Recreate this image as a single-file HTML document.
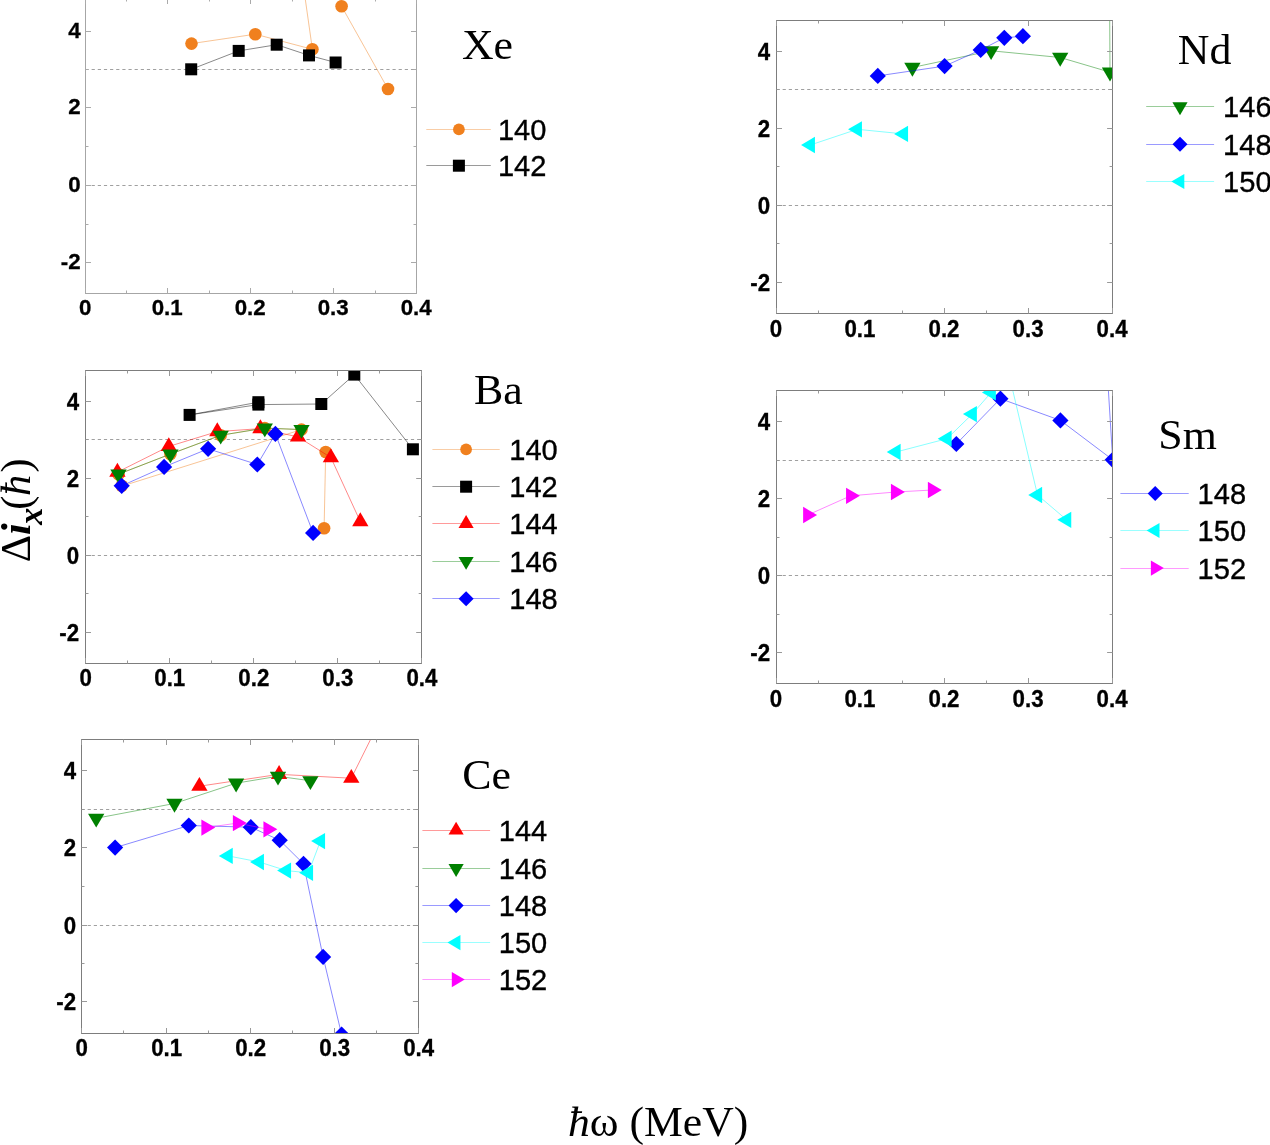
<!DOCTYPE html>
<html lang="en">
<head>
<meta charset="utf-8">
<title>Aligned angular momentum plots</title>
<style>
html,body{margin:0;padding:0;background:#fff;}
body{width:1270px;height:1145px;overflow:hidden;}
svg{display:block;}
</style>
</head>
<body>
<svg width="1270" height="1145" viewBox="0 0 1270 1145">
<rect width="1270" height="1145" fill="#fff"/>
<defs>
<clipPath id="cp-xe"><rect x="85.5" y="-1.5" width="331" height="295"/></clipPath>
<clipPath id="cp-ba"><rect x="85.5" y="370.5" width="336.2" height="292.9"/></clipPath>
<clipPath id="cp-ce"><rect x="81.5" y="739.4" width="336.9" height="293.9"/></clipPath>
<clipPath id="cp-nd"><rect x="776.5" y="20.3" width="336.1" height="293"/></clipPath>
<clipPath id="cp-sm"><rect x="776.5" y="390.3" width="336.1" height="293.3"/></clipPath>
</defs>
<g id="xe">
<line x1="85.5" y1="185.5" x2="416.5" y2="185.5" stroke="#a0a0a0" stroke-width="1" stroke-dasharray="3.2 2.94"/>
<line x1="85.5" y1="69.5" x2="416.5" y2="69.5" stroke="#a0a0a0" stroke-width="1" stroke-dasharray="3.2 2.94"/>
<g clip-path="url(#cp-xe)">
<polyline fill="none" stroke="#F0801E" stroke-width="0.47" points="191.5,43.6 255.3,34.2 312.4,49.3 248.6,-400 341.6,6.3 388,89"/>
<circle cx="191.5" cy="43.6" r="6.3" fill="#F0801E"/>
<circle cx="255.3" cy="34.2" r="6.3" fill="#F0801E"/>
<circle cx="312.4" cy="49.3" r="6.3" fill="#F0801E"/>
<circle cx="248.6" cy="-400" r="6.3" fill="#F0801E"/>
<circle cx="341.6" cy="6.3" r="6.3" fill="#F0801E"/>
<circle cx="388" cy="89" r="6.3" fill="#F0801E"/>
<polyline fill="none" stroke="#000000" stroke-width="0.47" points="191.2,69.3 238.7,50.9 276.7,44.7 309,55.4 335.6,62.5"/>
<rect x="185.2" y="63.3" width="12" height="12" fill="#000000"/>
<rect x="232.7" y="44.9" width="12" height="12" fill="#000000"/>
<rect x="270.7" y="38.7" width="12" height="12" fill="#000000"/>
<rect x="303" y="49.4" width="12" height="12" fill="#000000"/>
<rect x="329.6" y="56.5" width="12" height="12" fill="#000000"/>
</g>
<rect x="85.5" y="-1.5" width="331" height="295" fill="none" stroke="#a6a6a6" stroke-width="1"/>
<path d="M85.5 293.5v-5.5M85.5 -1.5v5.5M126.5 293.5v-3M126.5 -1.5v3M167.5 293.5v-5.5M167.5 -1.5v5.5M209.5 293.5v-3M209.5 -1.5v3M250.5 293.5v-5.5M250.5 -1.5v5.5M292.5 293.5v-3M292.5 -1.5v3M333.5 293.5v-5.5M375.5 293.5v-3M375.5 -1.5v3M416.5 293.5v-5.5M416.5 -1.5v5.5M85.5 262.5h5.5M416.5 262.5h-5.5M85.5 224.5h3M416.5 224.5h-3M85.5 185.5h5.5M416.5 185.5h-5.5M85.5 146.5h3M416.5 146.5h-3M85.5 107.5h5.5M416.5 107.5h-5.5M85.5 69.5h3M416.5 69.5h-3M85.5 31.5h5.5M416.5 31.5h-5.5" stroke="#aaa" stroke-width="1" fill="none"/>
<g font-family="'Liberation Sans', Arial, Helvetica, sans-serif" font-weight="bold" font-size="22.3" fill="#000" stroke="#000" stroke-width="0.3">
<text transform="translate(85.2,315.1) scale(1,1)" text-anchor="middle">0</text>
<text transform="translate(167.2,315.1) scale(1,1)" text-anchor="middle">0.1</text>
<text transform="translate(250.2,315.1) scale(1,1)" text-anchor="middle">0.2</text>
<text transform="translate(333.2,315.1) scale(1,1)" text-anchor="middle">0.3</text>
<text transform="translate(416.2,315.1) scale(1,1)" text-anchor="middle">0.4</text>
<text transform="translate(80.7,269.3) scale(1,1)" text-anchor="end">-2</text>
<text transform="translate(80.7,192.3) scale(1,1)" text-anchor="end">0</text>
<text transform="translate(80.7,114.3) scale(1,1)" text-anchor="end">2</text>
<text transform="translate(80.7,38.3) scale(1,1)" text-anchor="end">4</text>
</g>
<text transform="translate(487.5,59) scale(1.045,1)" text-anchor="middle" font-family="'Liberation Serif', 'Times New Roman', serif" font-size="42" fill="#000">Xe</text>
<line x1="426.3" y1="129.5" x2="490.8" y2="129.5" stroke="#F0801E" stroke-width="0.4"/>
<circle cx="458.9" cy="129.4" r="5.86" fill="#F0801E"/>
<text transform="translate(497.9,140.1) scale(0.985,1.015)" font-family="'Liberation Sans', Arial, Helvetica, sans-serif" font-size="29.5" fill="#000" stroke="#000" stroke-width="0.35">140</text>
<line x1="426.3" y1="165.5" x2="490.8" y2="165.5" stroke="#000000" stroke-width="0.4"/>
<rect x="452.9" y="159.7" width="12" height="12" fill="#000000"/>
<text transform="translate(497.9,176.4) scale(0.985,1.015)" font-family="'Liberation Sans', Arial, Helvetica, sans-serif" font-size="29.5" fill="#000" stroke="#000" stroke-width="0.35">142</text>
</g>
<g id="ba">
<line x1="85.5" y1="555.5" x2="421.7" y2="555.5" stroke="#a0a0a0" stroke-width="1" stroke-dasharray="3.2 2.94"/>
<line x1="85.5" y1="439.5" x2="421.7" y2="439.5" stroke="#a0a0a0" stroke-width="1" stroke-dasharray="3.2 2.94"/>
<g clip-path="url(#cp-ba)">
<polyline fill="none" stroke="#F0801E" stroke-width="0.47" points="121.7,485.8 118.5,474.2 170.4,454.1 220.7,435.3 264.8,428.1 301.5,429.6"/>
<polyline fill="none" stroke="#F0801E" stroke-width="0.47" points="325.7,452 324.1,528.2"/>
<polyline fill="none" stroke="#F0801E" stroke-width="0.47" points="121.7,486.2 301.5,429.6"/>
<circle cx="121.7" cy="485.8" r="6.3" fill="#F0801E"/>
<circle cx="118.5" cy="474.2" r="6.3" fill="#F0801E"/>
<circle cx="170.4" cy="454.1" r="6.3" fill="#F0801E"/>
<circle cx="220.7" cy="435.3" r="6.3" fill="#F0801E"/>
<circle cx="264.8" cy="428.1" r="6.3" fill="#F0801E"/>
<circle cx="301.5" cy="429.6" r="6.3" fill="#F0801E"/>
<circle cx="325.7" cy="452" r="6.3" fill="#F0801E"/>
<circle cx="324.1" cy="528.2" r="6.3" fill="#F0801E"/>
<polyline fill="none" stroke="#000000" stroke-width="0.47" points="189.6,414.9 258.4,402.2 258.4,404.6 321.3,404 354.3,374.6 412.9,449.3"/>
<polyline fill="none" stroke="#000000" stroke-width="0.47" points="189.6,414.9 258.4,404.6"/>
<rect x="183.6" y="408.9" width="12" height="12" fill="#000000"/>
<rect x="252.4" y="396.2" width="12" height="12" fill="#000000"/>
<rect x="252.4" y="398.6" width="12" height="12" fill="#000000"/>
<rect x="315.3" y="398" width="12" height="12" fill="#000000"/>
<rect x="348.3" y="368.6" width="12" height="12" fill="#000000"/>
<rect x="406.9" y="443.3" width="12" height="12" fill="#000000"/>
<polyline fill="none" stroke="#FF0000" stroke-width="0.47" points="117.4,472.12 168.8,446.42 217.3,431.62 260.4,428.62 298,436.92 330.9,457.52 360.3,521.52"/>
<polygon points="117.4,462.85 125.55,476.75 109.25,476.75" fill="#FF0000"/>
<polygon points="168.8,437.15 176.95,451.05 160.65,451.05" fill="#FF0000"/>
<polygon points="217.3,422.35 225.45,436.25 209.15,436.25" fill="#FF0000"/>
<polygon points="260.4,419.35 268.55,433.25 252.25,433.25" fill="#FF0000"/>
<polygon points="298,427.65 306.15,441.55 289.85,441.55" fill="#FF0000"/>
<polygon points="330.9,448.25 339.05,462.15 322.75,462.15" fill="#FF0000"/>
<polygon points="360.3,512.25 368.45,526.15 352.15,526.15" fill="#FF0000"/>
<polyline fill="none" stroke="#008000" stroke-width="0.47" points="118.5,474.18 170.4,454.08 220.7,435.28 264.8,428.08 301.5,429.58"/>
<polygon points="118.5,483.45 126.65,469.55 110.35,469.55" fill="#008000"/>
<polygon points="170.4,463.35 178.55,449.45 162.25,449.45" fill="#008000"/>
<polygon points="220.7,444.55 228.85,430.65 212.55,430.65" fill="#008000"/>
<polygon points="264.8,437.35 272.95,423.45 256.65,423.45" fill="#008000"/>
<polygon points="301.5,438.85 309.65,424.95 293.35,424.95" fill="#008000"/>
<polyline fill="none" stroke="#0000FF" stroke-width="0.47" points="121.7,485.8 164.1,466.9 208.1,448.8 257.3,464.5 275.4,433.9 313.1,532.9"/>
<polygon points="113.6,485.8 121.7,477.7 129.8,485.8 121.7,493.9" fill="#0000FF"/>
<polygon points="156,466.9 164.1,458.8 172.2,466.9 164.1,475" fill="#0000FF"/>
<polygon points="200,448.8 208.1,440.7 216.2,448.8 208.1,456.9" fill="#0000FF"/>
<polygon points="249.2,464.5 257.3,456.4 265.4,464.5 257.3,472.6" fill="#0000FF"/>
<polygon points="267.3,433.9 275.4,425.8 283.5,433.9 275.4,442" fill="#0000FF"/>
<polygon points="305,532.9 313.1,524.8 321.2,532.9 313.1,541" fill="#0000FF"/>
</g>
<rect x="85.5" y="370.5" width="336" height="293" fill="none" stroke="#7d7d7d" stroke-width="1"/>
<path d="M85.5 663.5v-5.5M85.5 370.5v5.5M127.5 663.5v-3M127.5 370.5v3M169.5 663.5v-5.5M169.5 370.5v5.5M211.5 663.5v-3M211.5 370.5v3M253.5 663.5v-5.5M253.5 370.5v5.5M295.5 663.5v-3M295.5 370.5v3M337.5 663.5v-5.5M337.5 370.5v5.5M379.5 663.5v-3M379.5 370.5v3M421.5 663.5v-5.5M421.5 370.5v5.5M85.5 632.5h5.5M421.7 632.5h-5.5M85.5 593.5h3M421.7 593.5h-3M85.5 555.5h5.5M421.7 555.5h-5.5M85.5 516.5h3M421.7 516.5h-3M85.5 478.5h5.5M421.7 478.5h-5.5M85.5 439.5h3M421.7 439.5h-3M85.5 401.5h5.5M421.7 401.5h-5.5" stroke="#999" stroke-width="1" fill="none"/>
<g font-family="'Liberation Sans', Arial, Helvetica, sans-serif" font-weight="bold" font-size="22.3" fill="#000" stroke="#000" stroke-width="0.3">
<text transform="translate(85.7,686.1) scale(1,1.07)" text-anchor="middle">0</text>
<text transform="translate(169.75,686.1) scale(1,1.07)" text-anchor="middle">0.1</text>
<text transform="translate(253.8,686.1) scale(1,1.07)" text-anchor="middle">0.2</text>
<text transform="translate(337.85,686.1) scale(1,1.07)" text-anchor="middle">0.3</text>
<text transform="translate(421.9,686.1) scale(1,1.07)" text-anchor="middle">0.4</text>
<text transform="translate(79.1,640.5) scale(1,1.07)" text-anchor="end">-2</text>
<text transform="translate(79.1,563.5) scale(1,1.07)" text-anchor="end">0</text>
<text transform="translate(79.1,486.5) scale(1,1.07)" text-anchor="end">2</text>
<text transform="translate(79.1,409.5) scale(1,1.07)" text-anchor="end">4</text>
</g>
<text transform="translate(498.4,404.3) scale(1.045,1)" text-anchor="middle" font-family="'Liberation Serif', 'Times New Roman', serif" font-size="42" fill="#000">Ba</text>
<line x1="432.4" y1="449.5" x2="499.7" y2="449.5" stroke="#F0801E" stroke-width="0.4"/>
<circle cx="466.1" cy="449.3" r="5.86" fill="#F0801E"/>
<text transform="translate(509.3,460) scale(0.985,1.015)" font-family="'Liberation Sans', Arial, Helvetica, sans-serif" font-size="29.5" fill="#000" stroke="#000" stroke-width="0.35">140</text>
<line x1="432.4" y1="486.5" x2="499.7" y2="486.5" stroke="#000000" stroke-width="0.4"/>
<rect x="460.1" y="480.7" width="12" height="12" fill="#000000"/>
<text transform="translate(509.3,497.4) scale(0.985,1.015)" font-family="'Liberation Sans', Arial, Helvetica, sans-serif" font-size="29.5" fill="#000" stroke="#000" stroke-width="0.35">142</text>
<line x1="432.4" y1="523.5" x2="499.7" y2="523.5" stroke="#FF0000" stroke-width="0.4"/>
<polygon points="466.1,514.98 473.68,527.91 458.52,527.91" fill="#FF0000"/>
<text transform="translate(509.3,534.3) scale(0.985,1.015)" font-family="'Liberation Sans', Arial, Helvetica, sans-serif" font-size="29.5" fill="#000" stroke="#000" stroke-width="0.35">144</text>
<line x1="432.4" y1="561.5" x2="499.7" y2="561.5" stroke="#008000" stroke-width="0.4"/>
<polygon points="466.1,569.82 473.68,556.89 458.52,556.89" fill="#008000"/>
<text transform="translate(509.3,571.9) scale(0.985,1.015)" font-family="'Liberation Sans', Arial, Helvetica, sans-serif" font-size="29.5" fill="#000" stroke="#000" stroke-width="0.35">146</text>
<line x1="432.4" y1="598.5" x2="499.7" y2="598.5" stroke="#0000FF" stroke-width="0.4"/>
<polygon points="458.57,598.7 466.1,591.17 473.63,598.7 466.1,606.23" fill="#0000FF"/>
<text transform="translate(509.3,609.4) scale(0.985,1.015)" font-family="'Liberation Sans', Arial, Helvetica, sans-serif" font-size="29.5" fill="#000" stroke="#000" stroke-width="0.35">148</text>
</g>
<g id="ce">
<line x1="81.5" y1="925.5" x2="418.4" y2="925.5" stroke="#a0a0a0" stroke-width="1" stroke-dasharray="3.2 2.94"/>
<line x1="81.5" y1="809.5" x2="418.4" y2="809.5" stroke="#a0a0a0" stroke-width="1" stroke-dasharray="3.2 2.94"/>
<g clip-path="url(#cp-ce)">
<polyline fill="none" stroke="#FF0000" stroke-width="0.47" points="199.4,786.22 279.1,774.32 351.3,778.22 392,696.32"/>
<polygon points="199.4,776.95 207.55,790.85 191.25,790.85" fill="#FF0000"/>
<polygon points="279.1,765.05 287.25,778.95 270.95,778.95" fill="#FF0000"/>
<polygon points="351.3,768.95 359.45,782.85 343.15,782.85" fill="#FF0000"/>
<polygon points="392,687.05 400.15,700.95 383.85,700.95" fill="#FF0000"/>
<polyline fill="none" stroke="#008000" stroke-width="0.47" points="96.2,818.28 174.5,803.48 236.1,783.18 278,776.28 310.4,780.78"/>
<polygon points="96.2,827.55 104.35,813.65 88.05,813.65" fill="#008000"/>
<polygon points="174.5,812.75 182.65,798.85 166.35,798.85" fill="#008000"/>
<polygon points="236.1,792.45 244.25,778.55 227.95,778.55" fill="#008000"/>
<polygon points="278,785.55 286.15,771.65 269.85,771.65" fill="#008000"/>
<polygon points="310.4,790.05 318.55,776.15 302.25,776.15" fill="#008000"/>
<polyline fill="none" stroke="#0000FF" stroke-width="0.47" points="115.1,847.6 188.8,825.5 250.8,827.2 279.7,840.2 303.5,863.8 323.1,956.9 341.6,1034.5"/>
<polygon points="107,847.6 115.1,839.5 123.2,847.6 115.1,855.7" fill="#0000FF"/>
<polygon points="180.7,825.5 188.8,817.4 196.9,825.5 188.8,833.6" fill="#0000FF"/>
<polygon points="242.7,827.2 250.8,819.1 258.9,827.2 250.8,835.3" fill="#0000FF"/>
<polygon points="271.6,840.2 279.7,832.1 287.8,840.2 279.7,848.3" fill="#0000FF"/>
<polygon points="295.4,863.8 303.5,855.7 311.6,863.8 303.5,871.9" fill="#0000FF"/>
<polygon points="315,956.9 323.1,948.8 331.2,956.9 323.1,965" fill="#0000FF"/>
<polygon points="333.5,1034.5 341.6,1026.4 349.7,1034.5 341.6,1042.6" fill="#0000FF"/>
<polyline fill="none" stroke="#00FFFF" stroke-width="0.47" points="228.12,855.9 259.32,862 286.42,870.6 308.42,872.8 320.42,841.1"/>
<polygon points="218.85,855.9 232.75,847.75 232.75,864.05" fill="#00FFFF"/>
<polygon points="250.05,862 263.95,853.85 263.95,870.15" fill="#00FFFF"/>
<polygon points="277.15,870.6 291.05,862.45 291.05,878.75" fill="#00FFFF"/>
<polygon points="299.15,872.8 313.05,864.65 313.05,880.95" fill="#00FFFF"/>
<polygon points="311.15,841.1 325.05,832.95 325.05,849.25" fill="#00FFFF"/>
<polyline fill="none" stroke="#FF00FF" stroke-width="0.47" points="205.98,827.6 237.48,823.1 268.08,829.3"/>
<polygon points="215.25,827.6 201.35,819.45 201.35,835.75" fill="#FF00FF"/>
<polygon points="246.75,823.1 232.85,814.95 232.85,831.25" fill="#FF00FF"/>
<polygon points="277.35,829.3 263.45,821.15 263.45,837.45" fill="#FF00FF"/>
</g>
<rect x="81.5" y="739.5" width="337" height="294" fill="none" stroke="#7d7d7d" stroke-width="1"/>
<path d="M81.5 1033.5v-5.5M81.5 739.5v5.5M123.5 1033.5v-3M123.5 739.5v3M166.5 1033.5v-5.5M166.5 739.5v5.5M208.5 1033.5v-3M208.5 739.5v3M250.5 1033.5v-5.5M250.5 739.5v5.5M292.5 1033.5v-3M292.5 739.5v3M334.5 1033.5v-5.5M334.5 739.5v5.5M376.5 1033.5v-3M376.5 739.5v3M418.5 1033.5v-5.5M418.5 739.5v5.5M81.5 1001.5h5.5M418.4 1001.5h-5.5M81.5 963.5h3M418.4 963.5h-3M81.5 925.5h5.5M418.4 925.5h-5.5M81.5 886.5h3M418.4 886.5h-3M81.5 847.5h5.5M418.4 847.5h-5.5M81.5 809.5h3M418.4 809.5h-3M81.5 770.5h5.5M418.4 770.5h-5.5" stroke="#999" stroke-width="1" fill="none"/>
<g font-family="'Liberation Sans', Arial, Helvetica, sans-serif" font-weight="bold" font-size="22.3" fill="#000" stroke="#000" stroke-width="0.3">
<text transform="translate(81.7,1055.7) scale(1,1.07)" text-anchor="middle">0</text>
<text transform="translate(166.7,1055.7) scale(1,1.07)" text-anchor="middle">0.1</text>
<text transform="translate(250.7,1055.7) scale(1,1.07)" text-anchor="middle">0.2</text>
<text transform="translate(334.7,1055.7) scale(1,1.07)" text-anchor="middle">0.3</text>
<text transform="translate(418.7,1055.7) scale(1,1.07)" text-anchor="middle">0.4</text>
<text transform="translate(76.1,1009.6) scale(1,1.07)" text-anchor="end">-2</text>
<text transform="translate(76.1,933.6) scale(1,1.07)" text-anchor="end">0</text>
<text transform="translate(76.1,855.6) scale(1,1.07)" text-anchor="end">2</text>
<text transform="translate(76.1,778.6) scale(1,1.07)" text-anchor="end">4</text>
</g>
<text transform="translate(486.6,788.8) scale(1.045,1)" text-anchor="middle" font-family="'Liberation Serif', 'Times New Roman', serif" font-size="42" fill="#000">Ce</text>
<line x1="422.4" y1="830.5" x2="490.1" y2="830.5" stroke="#FF0000" stroke-width="0.4"/>
<polygon points="456.1,821.68 463.68,834.61 448.52,834.61" fill="#FF0000"/>
<text transform="translate(498.8,841) scale(0.985,1.015)" font-family="'Liberation Sans', Arial, Helvetica, sans-serif" font-size="29.5" fill="#000" stroke="#000" stroke-width="0.35">144</text>
<line x1="422.4" y1="868.5" x2="490.1" y2="868.5" stroke="#008000" stroke-width="0.4"/>
<polygon points="456.1,876.92 463.68,863.99 448.52,863.99" fill="#008000"/>
<text transform="translate(498.8,879) scale(0.985,1.015)" font-family="'Liberation Sans', Arial, Helvetica, sans-serif" font-size="29.5" fill="#000" stroke="#000" stroke-width="0.35">146</text>
<line x1="422.4" y1="905.5" x2="490.1" y2="905.5" stroke="#0000FF" stroke-width="0.4"/>
<polygon points="448.57,905.6 456.1,898.07 463.63,905.6 456.1,913.13" fill="#0000FF"/>
<text transform="translate(498.8,916.3) scale(0.985,1.015)" font-family="'Liberation Sans', Arial, Helvetica, sans-serif" font-size="29.5" fill="#000" stroke="#000" stroke-width="0.35">148</text>
<line x1="422.4" y1="942.5" x2="490.1" y2="942.5" stroke="#00FFFF" stroke-width="0.4"/>
<polygon points="447.48,942.6 460.41,935.02 460.41,950.18" fill="#00FFFF"/>
<text transform="translate(498.8,953.3) scale(0.985,1.015)" font-family="'Liberation Sans', Arial, Helvetica, sans-serif" font-size="29.5" fill="#000" stroke="#000" stroke-width="0.35">150</text>
<line x1="422.4" y1="979.5" x2="490.1" y2="979.5" stroke="#FF00FF" stroke-width="0.4"/>
<polygon points="464.72,979.6 451.79,972.02 451.79,987.18" fill="#FF00FF"/>
<text transform="translate(498.8,990.3) scale(0.985,1.015)" font-family="'Liberation Sans', Arial, Helvetica, sans-serif" font-size="29.5" fill="#000" stroke="#000" stroke-width="0.35">152</text>
</g>
<g id="nd">
<line x1="776.5" y1="205.5" x2="1112.6" y2="205.5" stroke="#a0a0a0" stroke-width="1" stroke-dasharray="3.2 2.94"/>
<line x1="776.5" y1="89.5" x2="1112.6" y2="89.5" stroke="#a0a0a0" stroke-width="1" stroke-dasharray="3.2 2.94"/>
<g clip-path="url(#cp-nd)">
<polyline fill="none" stroke="#008000" stroke-width="0.47" points="912.4,67.48 991.1,50.78 1060.2,57.48 1110,72.18 1109.5,-22.32"/>
<polygon points="912.4,76.75 920.55,62.85 904.25,62.85" fill="#008000"/>
<polygon points="991.1,60.05 999.25,46.15 982.95,46.15" fill="#008000"/>
<polygon points="1060.2,66.75 1068.35,52.85 1052.05,52.85" fill="#008000"/>
<polygon points="1110,81.45 1118.15,67.55 1101.85,67.55" fill="#008000"/>
<polygon points="1109.5,-13.05 1117.65,-26.95 1101.35,-26.95" fill="#008000"/>
<polyline fill="none" stroke="#0000FF" stroke-width="0.47" points="877.8,75.9 944.6,66.1 980.7,49.9 1004.3,37.8 1022.9,36.2"/>
<polygon points="869.7,75.9 877.8,67.8 885.9,75.9 877.8,84" fill="#0000FF"/>
<polygon points="936.5,66.1 944.6,58 952.7,66.1 944.6,74.2" fill="#0000FF"/>
<polygon points="972.6,49.9 980.7,41.8 988.8,49.9 980.7,58" fill="#0000FF"/>
<polygon points="996.2,37.8 1004.3,29.7 1012.4,37.8 1004.3,45.9" fill="#0000FF"/>
<polygon points="1014.8,36.2 1022.9,28.1 1031,36.2 1022.9,44.3" fill="#0000FF"/>
<polyline fill="none" stroke="#00FFFF" stroke-width="0.47" points="810.32,145 857.32,129.3 903.42,133.9"/>
<polygon points="801.05,145 814.95,136.85 814.95,153.15" fill="#00FFFF"/>
<polygon points="848.05,129.3 861.95,121.15 861.95,137.45" fill="#00FFFF"/>
<polygon points="894.15,133.9 908.05,125.75 908.05,142.05" fill="#00FFFF"/>
</g>
<rect x="776.5" y="20.5" width="336" height="293" fill="none" stroke="#7d7d7d" stroke-width="1"/>
<path d="M776.5 313.5v-5.5M776.5 20.5v5.5M818.5 313.5v-3M818.5 20.5v3M902.5 313.5v-3M902.5 20.5v3M944.5 313.5v-5.5M944.5 20.5v5.5M986.5 313.5v-3M1028.5 313.5v-5.5M1028.5 20.5v5.5M1112.5 313.5v-5.5M1112.5 20.5v5.5M776.5 282.5h5.5M1112.6 282.5h-5.5M776.5 243.5h3M1112.6 243.5h-3M776.5 205.5h5.5M1112.6 205.5h-5.5M776.5 166.5h3M1112.6 166.5h-3M776.5 128.5h5.5M1112.6 128.5h-5.5M776.5 89.5h3M1112.6 89.5h-3M776.5 51.5h5.5M1112.6 51.5h-5.5" stroke="#999" stroke-width="1" fill="none"/>
<g font-family="'Liberation Sans', Arial, Helvetica, sans-serif" font-weight="bold" font-size="22.3" fill="#000" stroke="#000" stroke-width="0.3">
<text transform="translate(775.9,337) scale(1,1.07)" text-anchor="middle">0</text>
<text transform="translate(859.95,337) scale(1,1.07)" text-anchor="middle">0.1</text>
<text transform="translate(944,337) scale(1,1.07)" text-anchor="middle">0.2</text>
<text transform="translate(1028.05,337) scale(1,1.07)" text-anchor="middle">0.3</text>
<text transform="translate(1112.1,337) scale(1,1.07)" text-anchor="middle">0.4</text>
<text transform="translate(770.1,290.5) scale(1,1.07)" text-anchor="end">-2</text>
<text transform="translate(770.1,213.5) scale(1,1.07)" text-anchor="end">0</text>
<text transform="translate(770.1,136.5) scale(1,1.07)" text-anchor="end">2</text>
<text transform="translate(770.1,59.5) scale(1,1.07)" text-anchor="end">4</text>
</g>
<text transform="translate(1204.5,63.9) scale(1.045,1)" text-anchor="middle" font-family="'Liberation Serif', 'Times New Roman', serif" font-size="42" fill="#000">Nd</text>
<line x1="1146.2" y1="106.5" x2="1214.1" y2="106.5" stroke="#008000" stroke-width="0.4"/>
<polygon points="1180,115.22 1187.58,102.29 1172.42,102.29" fill="#008000"/>
<text transform="translate(1223.1,117.3) scale(0.985,1.015)" font-family="'Liberation Sans', Arial, Helvetica, sans-serif" font-size="29.5" fill="#000" stroke="#000" stroke-width="0.35">146</text>
<line x1="1146.2" y1="144.5" x2="1214.1" y2="144.5" stroke="#0000FF" stroke-width="0.4"/>
<polygon points="1172.47,144.3 1180,136.77 1187.53,144.3 1180,151.83" fill="#0000FF"/>
<text transform="translate(1223.1,155) scale(0.985,1.015)" font-family="'Liberation Sans', Arial, Helvetica, sans-serif" font-size="29.5" fill="#000" stroke="#000" stroke-width="0.35">148</text>
<line x1="1146.2" y1="181.5" x2="1214.1" y2="181.5" stroke="#00FFFF" stroke-width="0.4"/>
<polygon points="1171.38,181.5 1184.31,173.92 1184.31,189.08" fill="#00FFFF"/>
<text transform="translate(1223.1,192.2) scale(0.985,1.015)" font-family="'Liberation Sans', Arial, Helvetica, sans-serif" font-size="29.5" fill="#000" stroke="#000" stroke-width="0.35">150</text>
</g>
<g id="sm">
<line x1="776.5" y1="575.5" x2="1112.6" y2="575.5" stroke="#a0a0a0" stroke-width="1" stroke-dasharray="3.2 2.94"/>
<line x1="776.5" y1="460.5" x2="1112.6" y2="460.5" stroke="#a0a0a0" stroke-width="1" stroke-dasharray="3.2 2.94"/>
<g clip-path="url(#cp-sm)">
<polyline fill="none" stroke="#0000FF" stroke-width="0.47" points="956.3,444 1000.4,398.7 1060.4,420.4 1112.7,459.8 1106.5,360"/>
<polygon points="948.2,444 956.3,435.9 964.4,444 956.3,452.1" fill="#0000FF"/>
<polygon points="992.3,398.7 1000.4,390.6 1008.5,398.7 1000.4,406.8" fill="#0000FF"/>
<polygon points="1052.3,420.4 1060.4,412.3 1068.5,420.4 1060.4,428.5" fill="#0000FF"/>
<polygon points="1104.6,459.8 1112.7,451.7 1120.8,459.8 1112.7,467.9" fill="#0000FF"/>
<polygon points="1098.4,360 1106.5,351.9 1114.6,360 1106.5,368.1" fill="#0000FF"/>
<polyline fill="none" stroke="#00FFFF" stroke-width="0.47" points="896.02,452 947.02,438.7 972.22,414.1 991.22,392.4 1000.82,340 1037.52,495 1066.62,519.8"/>
<polygon points="886.75,452 900.65,443.85 900.65,460.15" fill="#00FFFF"/>
<polygon points="937.75,438.7 951.65,430.55 951.65,446.85" fill="#00FFFF"/>
<polygon points="962.95,414.1 976.85,405.95 976.85,422.25" fill="#00FFFF"/>
<polygon points="981.95,392.4 995.85,384.25 995.85,400.55" fill="#00FFFF"/>
<polygon points="991.55,340 1005.45,331.85 1005.45,348.15" fill="#00FFFF"/>
<polygon points="1028.25,495 1042.15,486.85 1042.15,503.15" fill="#00FFFF"/>
<polygon points="1057.35,519.8 1071.25,511.65 1071.25,527.95" fill="#00FFFF"/>
<polyline fill="none" stroke="#FF00FF" stroke-width="0.47" points="807.78,515 850.68,495.8 895.58,492 932.48,490"/>
<polygon points="817.05,515 803.15,506.85 803.15,523.15" fill="#FF00FF"/>
<polygon points="859.95,495.8 846.05,487.65 846.05,503.95" fill="#FF00FF"/>
<polygon points="904.85,492 890.95,483.85 890.95,500.15" fill="#FF00FF"/>
<polygon points="941.75,490 927.85,481.85 927.85,498.15" fill="#FF00FF"/>
</g>
<rect x="776.5" y="390.5" width="336" height="293" fill="none" stroke="#7d7d7d" stroke-width="1"/>
<path d="M776.5 683.5v-5.5M776.5 390.5v5.5M818.5 683.5v-3M818.5 390.5v3M902.5 683.5v-3M902.5 390.5v3M944.5 683.5v-5.5M944.5 390.5v5.5M986.5 683.5v-3M1028.5 683.5v-5.5M1028.5 390.5v5.5M1112.5 683.5v-5.5M1112.5 390.5v5.5M776.5 652.5h5.5M1112.6 652.5h-5.5M776.5 614.5h3M1112.6 614.5h-3M776.5 575.5h5.5M1112.6 575.5h-5.5M776.5 537.5h3M1112.6 537.5h-3M776.5 498.5h5.5M1112.6 498.5h-5.5M776.5 460.5h3M1112.6 460.5h-3M776.5 421.5h5.5M1112.6 421.5h-5.5" stroke="#999" stroke-width="1" fill="none"/>
<g font-family="'Liberation Sans', Arial, Helvetica, sans-serif" font-weight="bold" font-size="22.3" fill="#000" stroke="#000" stroke-width="0.3">
<text transform="translate(775.9,706.7) scale(1,1.07)" text-anchor="middle">0</text>
<text transform="translate(859.95,706.7) scale(1,1.07)" text-anchor="middle">0.1</text>
<text transform="translate(944,706.7) scale(1,1.07)" text-anchor="middle">0.2</text>
<text transform="translate(1028.05,706.7) scale(1,1.07)" text-anchor="middle">0.3</text>
<text transform="translate(1112.1,706.7) scale(1,1.07)" text-anchor="middle">0.4</text>
<text transform="translate(770.1,660.6) scale(1,1.07)" text-anchor="end">-2</text>
<text transform="translate(770.1,583.6) scale(1,1.07)" text-anchor="end">0</text>
<text transform="translate(770.1,506.6) scale(1,1.07)" text-anchor="end">2</text>
<text transform="translate(770.1,429.6) scale(1,1.07)" text-anchor="end">4</text>
</g>
<text transform="translate(1187.6,448.8) scale(1.045,1)" text-anchor="middle" font-family="'Liberation Serif', 'Times New Roman', serif" font-size="42" fill="#000">Sm</text>
<line x1="1120.4" y1="493.5" x2="1188.7" y2="493.5" stroke="#0000FF" stroke-width="0.4"/>
<polygon points="1147.67,493.5 1155.2,485.97 1162.73,493.5 1155.2,501.03" fill="#0000FF"/>
<text transform="translate(1197.6,504.2) scale(0.985,1.015)" font-family="'Liberation Sans', Arial, Helvetica, sans-serif" font-size="29.5" fill="#000" stroke="#000" stroke-width="0.35">148</text>
<line x1="1120.4" y1="530.5" x2="1188.7" y2="530.5" stroke="#00FFFF" stroke-width="0.4"/>
<polygon points="1146.58,530.5 1159.51,522.92 1159.51,538.08" fill="#00FFFF"/>
<text transform="translate(1197.6,541.2) scale(0.985,1.015)" font-family="'Liberation Sans', Arial, Helvetica, sans-serif" font-size="29.5" fill="#000" stroke="#000" stroke-width="0.35">150</text>
<line x1="1120.4" y1="568.5" x2="1188.7" y2="568.5" stroke="#FF00FF" stroke-width="0.4"/>
<polygon points="1163.82,568.1 1150.89,560.52 1150.89,575.68" fill="#FF00FF"/>
<text transform="translate(1197.6,578.8) scale(0.985,1.015)" font-family="'Liberation Sans', Arial, Helvetica, sans-serif" font-size="29.5" fill="#000" stroke="#000" stroke-width="0.35">152</text>
</g>
<text transform="translate(658.1,1136) scale(1.028,1)" text-anchor="middle" font-family="'Liberation Serif', 'Times New Roman', serif" font-size="42.5" fill="#000"><tspan font-style="italic">ħ</tspan>ω (MeV)</text>
<text transform="translate(30,562.3) rotate(-90)" font-family="'Liberation Serif', 'Times New Roman', serif" font-size="42.5" fill="#000">Δ<tspan font-style="italic" font-weight="bold">i</tspan><tspan font-style="italic" font-weight="bold" font-size="34" dx="-1.5" dy="12">x</tspan><tspan dx="-2.2" dy="-12">(</tspan><tspan font-style="italic" dx="-0.3">ħ</tspan><tspan dx="2.3">)</tspan></text>
</svg>
</body>
</html>
